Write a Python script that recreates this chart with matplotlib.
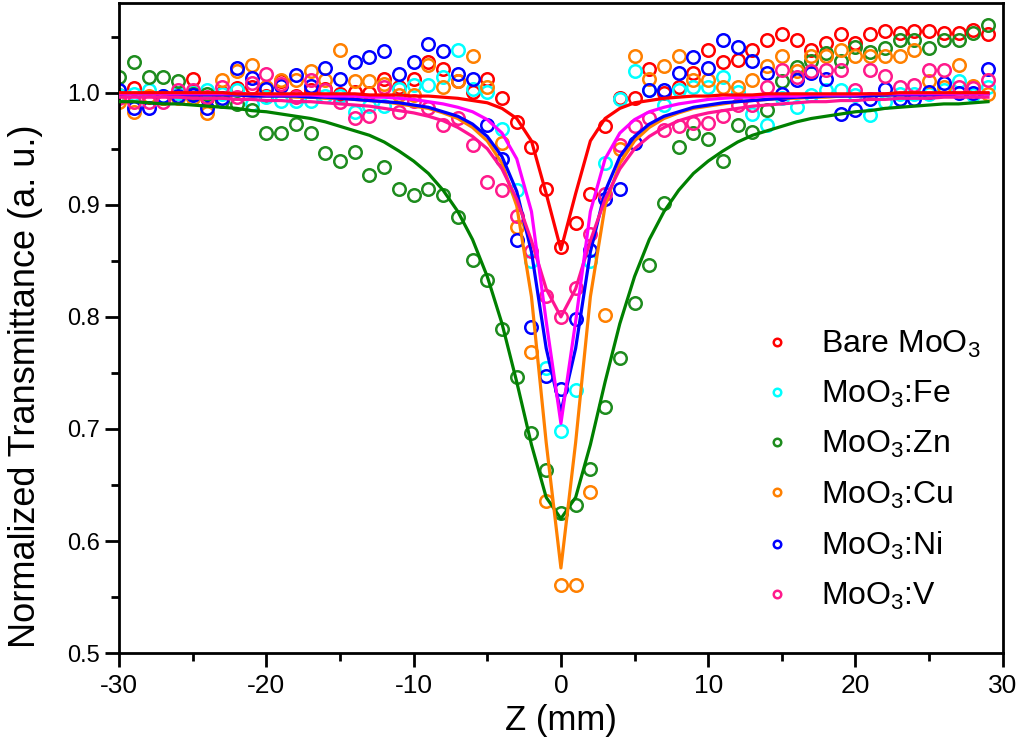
import numpy as np
import matplotlib.pyplot as plt

plt.rcParams['font.family'] = ['Liberation Sans', 'DejaVu Sans']
plt.rcParams['mathtext.fontset'] = 'custom'
plt.rcParams['mathtext.rm'] = 'Liberation Sans'
plt.rcParams['mathtext.it'] = 'Liberation Sans'
plt.rcParams['axes.unicode_minus'] = False

# Z positions (mm), one point per mm
z = list(range(-30, 30))

labels = ['Bare MoO$_3$', 'MoO$_3$:Fe', 'MoO$_3$:Zn', 'MoO$_3$:Cu', 'MoO$_3$:Ni', 'MoO$_3$:V']

# measured open-aperture transmittance (rows of 10: -30..-21, -20..-11, ...)
bare = [
    0.998, 1.004, 0.996, 0.995, 1.000, 1.012, 0.995, 1.000, 1.004, 1.005,
    0.997, 1.010, 0.997, 1.002, 1.003, 0.999, 1.001, 1.000, 1.012, 1.005,
    1.012, 1.027, 1.021, 1.010, 1.001, 1.012, 0.995, 0.974, 0.952, 0.914,
    0.862, 0.884, 0.910, 0.970, 0.995, 0.995, 1.021, 1.000, 1.005, 1.018,
    1.038, 1.027, 1.029, 1.038, 1.047, 1.052, 1.047, 1.038, 1.044, 1.052,
    1.044, 1.052, 1.055, 1.053, 1.055, 1.055, 1.053, 1.053, 1.056, 1.052,
]
fe = [
    0.998, 0.999, 1.002, 0.997, 1.000, 1.000, 1.002, 0.999, 1.002, 0.990,
    0.996, 0.993, 0.993, 0.993, 0.997, 0.997, 0.983, 0.988, 0.988, 1.003,
    1.007, 1.007, 1.014, 1.038, 1.003, 1.001, 0.968, 0.913, 0.850, 0.754,
    0.698, 0.735, 0.850, 0.937, 0.994, 1.019, 1.002, 0.989, 1.002, 1.005,
    1.005, 1.014, 1.001, 0.981, 0.971, 0.995, 0.987, 0.998, 1.002, 1.002,
    0.998, 0.980, 0.992, 0.999, 0.999, 0.999, 1.002, 1.010, 0.998, 1.005,
]
zn = [
    1.014, 1.027, 1.014, 1.014, 1.010, 0.999, 0.999, 0.993, 0.990, 0.985,
    0.964, 0.964, 0.972, 0.964, 0.946, 0.939, 0.947, 0.927, 0.934, 0.914,
    0.909, 0.914, 0.909, 0.889, 0.851, 0.833, 0.789, 0.746, 0.696, 0.663,
    0.625, 0.632, 0.664, 0.720, 0.763, 0.812, 0.846, 0.902, 0.952, 0.964,
    0.959, 0.939, 0.971, 0.965, 0.985, 1.010, 1.023, 1.028, 1.035, 1.028,
    1.041, 1.036, 1.040, 1.047, 1.047, 1.040, 1.047, 1.047, 1.053, 1.060,
]
cu = [
    0.992, 0.983, 0.997, 0.995, 0.995, 0.995, 0.982, 1.011, 1.019, 1.025,
    1.005, 1.011, 1.011, 1.019, 1.011, 1.038, 1.010, 1.010, 1.008, 0.998,
    0.998, 1.025, 1.005, 1.010, 1.033, 1.005, 0.955, 0.880, 0.769, 0.636,
    0.561, 0.561, 0.644, 0.802, 0.950, 1.033, 1.012, 1.024, 1.033, 1.011,
    1.011, 1.005, 1.005, 1.011, 1.024, 1.033, 1.019, 1.033, 1.033, 1.038,
    1.033, 1.033, 1.033, 1.033, 1.038, 1.010, 1.005, 1.025, 1.006, 0.999,
]
ni = [
    1.002, 0.986, 0.986, 0.997, 0.997, 0.998, 0.986, 0.995, 1.022, 1.013,
    1.003, 1.006, 1.016, 1.006, 1.022, 1.012, 1.027, 1.032, 1.037, 1.017,
    1.027, 1.043, 1.037, 1.017, 1.012, 0.971, 0.941, 0.869, 0.791, 0.747,
    0.736, 0.798, 0.860, 0.905, 0.914, 0.955, 1.002, 1.002, 1.018, 1.032,
    1.022, 1.047, 1.041, 1.028, 1.018, 0.999, 1.011, 1.018, 1.012, 0.981,
    0.985, 0.994, 1.003, 0.994, 0.994, 1.001, 1.009, 1.000, 1.000, 1.021,
]
v = [
    0.995, 0.992, 0.992, 0.992, 1.002, 1.002, 0.996, 1.005, 0.996, 1.009,
    1.017, 1.008, 0.996, 1.011, 1.002, 0.992, 0.977, 0.979, 1.005, 0.983,
    0.993, 0.986, 0.971, 0.977, 0.953, 0.920, 0.913, 0.890, 0.859, 0.819,
    0.800, 0.826, 0.874, 0.910, 0.953, 0.970, 0.977, 0.967, 0.970, 0.973,
    0.973, 0.979, 0.989, 0.989, 1.005, 1.020, 1.014, 1.019, 1.020, 1.020,
    1.002, 1.020, 1.015, 1.005, 1.007, 1.020, 1.020, 1.005, 1.004, 1.011,
]

# fitted curves at the same Z positions
bare_fit = [
    1.000, 1.000, 1.000, 1.000, 1.000, 1.000, 1.000, 1.000, 0.999, 0.999,
    0.999, 0.999, 0.999, 0.999, 0.999, 0.999, 0.999, 0.998, 0.998, 0.998,
    0.997, 0.997, 0.996, 0.995, 0.993, 0.991, 0.986, 0.977, 0.957, 0.910,
    0.860, 0.910, 0.957, 0.977, 0.986, 0.991, 0.993, 0.995, 0.996, 0.997,
    0.997, 0.998, 0.998, 0.998, 0.999, 0.999, 0.999, 0.999, 0.999, 0.999,
    0.999, 0.999, 0.999, 1.000, 1.000, 1.000, 1.000, 1.000, 1.000, 1.000,
]
fe_fit = [
    0.999, 0.999, 0.999, 0.999, 0.999, 0.999, 0.999, 0.999, 0.999, 0.999,
    0.998, 0.998, 0.998, 0.998, 0.997, 0.997, 0.997, 0.996, 0.996, 0.995,
    0.994, 0.992, 0.990, 0.987, 0.983, 0.976, 0.964, 0.941, 0.894, 0.796,
    0.705, 0.796, 0.894, 0.941, 0.964, 0.976, 0.983, 0.987, 0.990, 0.992,
    0.994, 0.995, 0.996, 0.996, 0.997, 0.997, 0.997, 0.998, 0.998, 0.998,
    0.998, 0.999, 0.999, 0.999, 0.999, 0.999, 0.999, 0.999, 0.999, 0.999,
]
zn_fit = [
    0.992, 0.992, 0.991, 0.990, 0.990, 0.989, 0.988, 0.987, 0.986, 0.984,
    0.983, 0.981, 0.979, 0.977, 0.974, 0.970, 0.966, 0.962, 0.956, 0.948,
    0.939, 0.928, 0.913, 0.894, 0.869, 0.836, 0.794, 0.742, 0.686, 0.639,
    0.620, 0.639, 0.686, 0.742, 0.794, 0.836, 0.869, 0.894, 0.913, 0.928,
    0.939, 0.948, 0.956, 0.962, 0.966, 0.970, 0.974, 0.977, 0.979, 0.981,
    0.983, 0.984, 0.986, 0.987, 0.988, 0.989, 0.990, 0.990, 0.991, 0.992,
]
cu_fit = [
    0.999, 0.999, 0.999, 0.999, 0.998, 0.998, 0.998, 0.998, 0.998, 0.997,
    0.997, 0.997, 0.996, 0.996, 0.995, 0.995, 0.994, 0.993, 0.992, 0.990,
    0.988, 0.986, 0.982, 0.977, 0.969, 0.957, 0.937, 0.899, 0.818, 0.688,
    0.576, 0.688, 0.818, 0.899, 0.937, 0.957, 0.969, 0.977, 0.982, 0.986,
    0.988, 0.990, 0.992, 0.993, 0.994, 0.995, 0.995, 0.996, 0.996, 0.997,
    0.997, 0.997, 0.998, 0.998, 0.998, 0.998, 0.998, 0.999, 0.999, 0.999,
]
ni_fit = [
    0.999, 0.999, 0.999, 0.999, 0.998, 0.998, 0.998, 0.998, 0.998, 0.997,
    0.997, 0.997, 0.997, 0.996, 0.996, 0.995, 0.994, 0.993, 0.992, 0.991,
    0.989, 0.987, 0.983, 0.979, 0.972, 0.961, 0.943, 0.912, 0.858, 0.772,
    0.715, 0.772, 0.858, 0.912, 0.943, 0.961, 0.972, 0.979, 0.983, 0.987,
    0.989, 0.991, 0.992, 0.993, 0.994, 0.995, 0.996, 0.996, 0.997, 0.997,
    0.997, 0.997, 0.998, 0.998, 0.998, 0.998, 0.998, 0.999, 0.999, 0.999,
]
v_fit = [
    0.996, 0.996, 0.996, 0.996, 0.996, 0.995, 0.995, 0.995, 0.994, 0.994,
    0.993, 0.993, 0.992, 0.992, 0.991, 0.990, 0.989, 0.988, 0.986, 0.984,
    0.982, 0.979, 0.975, 0.969, 0.961, 0.950, 0.932, 0.905, 0.868, 0.825,
    0.800, 0.825, 0.868, 0.905, 0.932, 0.950, 0.961, 0.969, 0.975, 0.979,
    0.982, 0.984, 0.986, 0.988, 0.989, 0.990, 0.991, 0.992, 0.992, 0.993,
    0.993, 0.994, 0.994, 0.995, 0.995, 0.995, 0.996, 0.996, 0.996, 0.996,
]

point_colors = ['#ff0000', '#00ffff', '#1e8c1e', '#ff8000', '#0000ff', '#ff1a8c']
line_colors = ['#ff0000', '#ff00ff', '#008000', '#ff8000', '#0000ff', '#ff1493']

data = [bare, fe, zn, cu, ni, v]
fits = [bare_fit, fe_fit, zn_fit, cu_fit, ni_fit, v_fit]

fig = plt.figure(figsize=(10.18, 7.56), dpi=100)
ax = fig.add_axes([0.117, 0.136, 0.868, 0.860])

handles = []
for y, c, lab in zip(data, point_colors, labels):
    h, = ax.plot(z, y, 'o', ms=9, mfc='none', mec=c, mew=1.8, label=lab, zorder=2)
    handles.append(h)

for i in [2, 3, 4, 5, 1, 0]:
    ax.plot(z, fits[i], '-', color=line_colors[i], lw=2.3, zorder=3)

ax.set_xlim(-30, 30)
ax.set_ylim(0.5, 1.08)
ax.set_xticks([-30, -20, -10, 0, 10, 20, 30])
ax.set_xticks([-25, -15, -5, 5, 15, 25], minor=True)
ax.set_yticks([0.5, 0.6, 0.7, 0.8, 0.9, 1.0])
ax.set_yticks([0.55, 0.65, 0.75, 0.85, 0.95, 1.05], minor=True)
ax.set_yticklabels(['0.5', '0.6', '0.7', '0.8', '0.9', '1.0'])

ax.tick_params(which='major', direction='out', length=10, width=2, labelsize=17, pad=4)
ax.tick_params(axis='x', which='major', labelsize=19, pad=5)
ax.tick_params(which='minor', direction='out', length=6, width=2)
ax.tick_params(top=False, right=False)
for s in ax.spines.values():
    s.set_linewidth(2)

ax.set_xlabel('Z (mm)', fontsize=25, labelpad=4)
ax.set_ylabel('Normalized Transmittance (a. u.)', fontsize=26)
ax.yaxis.set_label_coords(-0.086, 0.41)

ax.legend(handles=handles, loc='upper left', bbox_to_anchor=(0.726, 0.499),
          frameon=False, fontsize=23, markerscale=0.6, handlelength=1.0,
          handletextpad=0.9, labelspacing=0.6, borderpad=0, borderaxespad=0)

fig.savefig('out.png', dpi=100)
